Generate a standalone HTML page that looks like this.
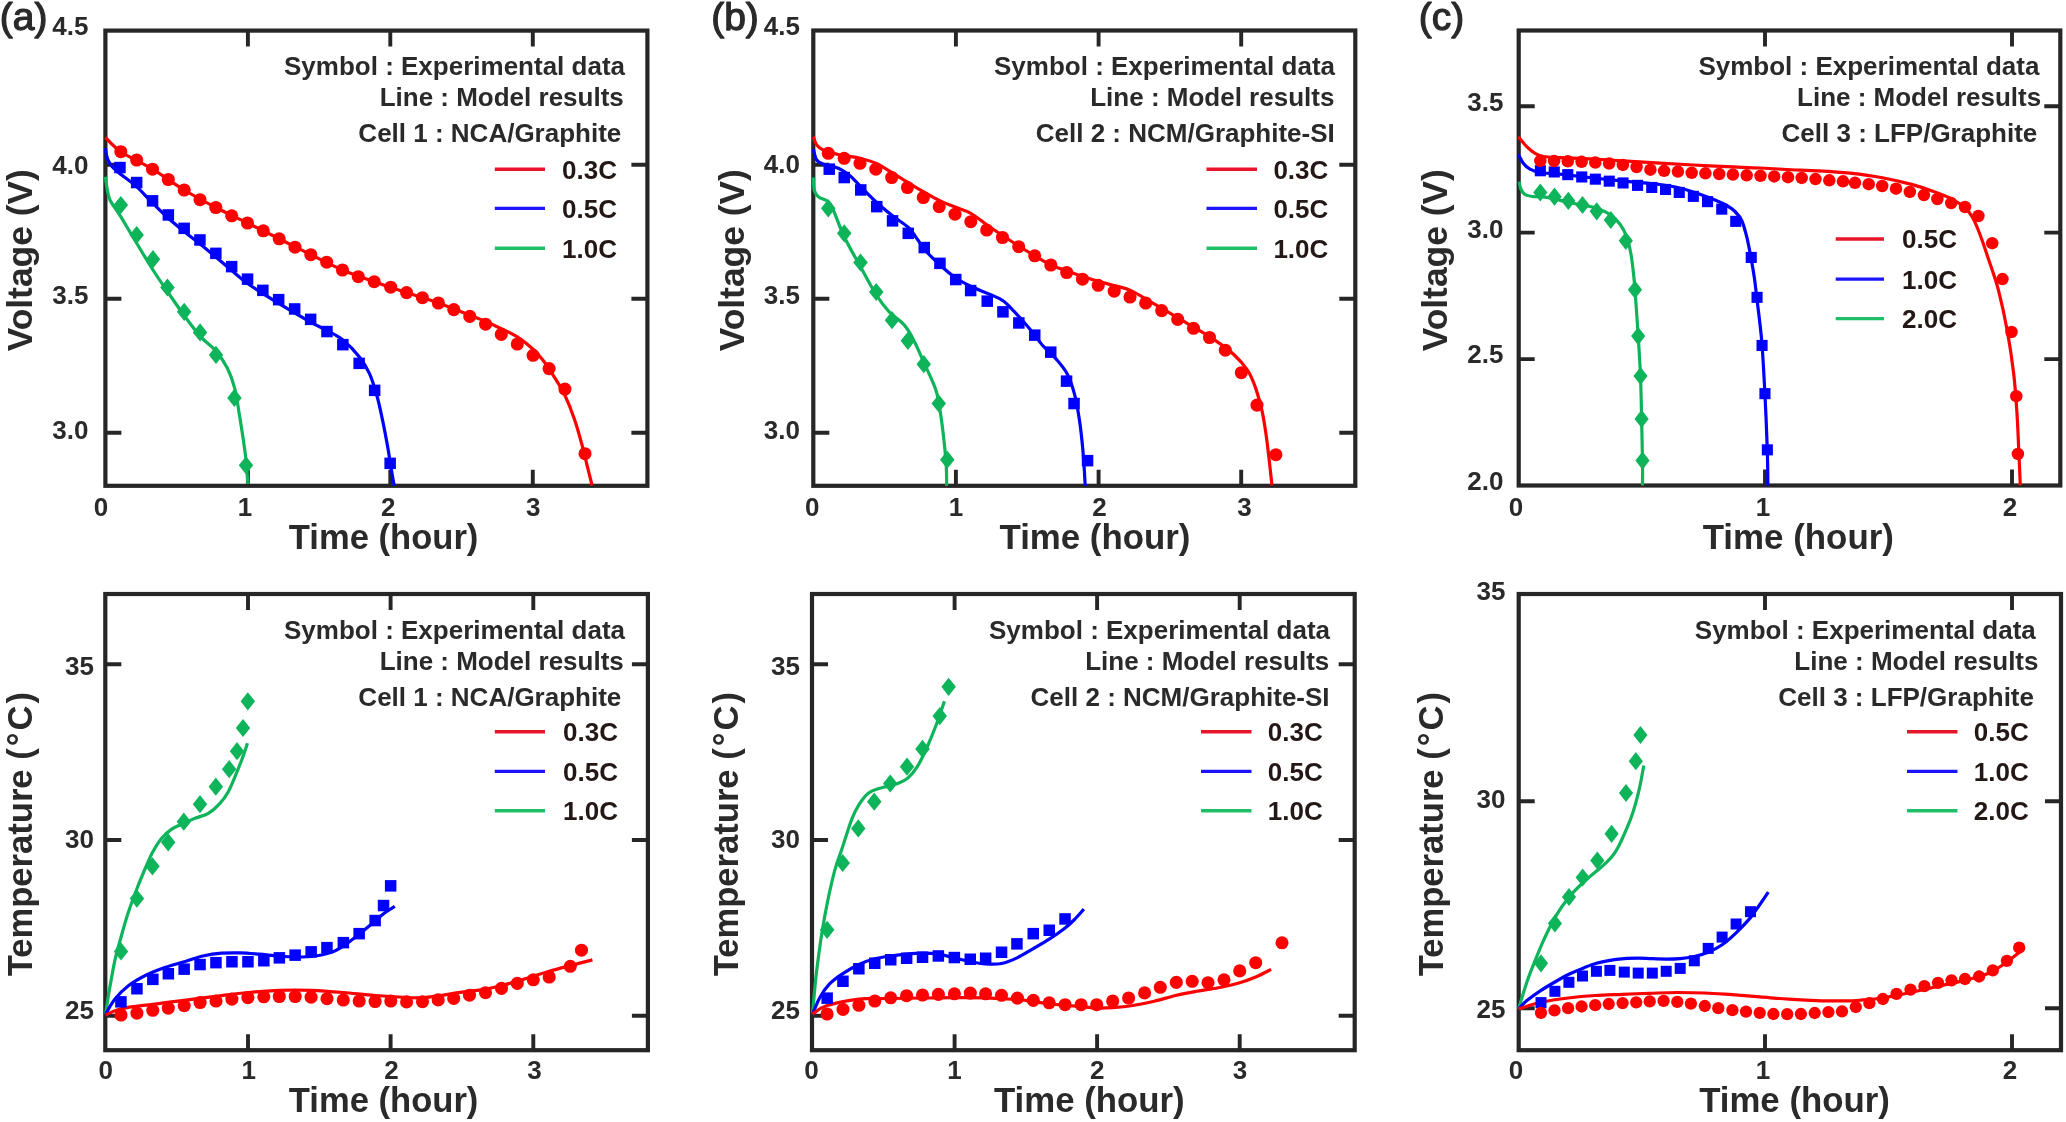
<!DOCTYPE html>
<html><head><meta charset="utf-8"><title>Figure</title>
<style>
html,body{margin:0;padding:0;background:#fff;}
body{width:2066px;height:1122px;overflow:hidden;}
svg{display:block;filter:blur(0.55px);}
svg text{font-family:'Liberation Sans', Arial, Helvetica, sans-serif;font-weight:bold;}
</style></head><body>
<svg width="2066" height="1122" viewBox="0 0 2066 1122">
<rect width="2066" height="1122" fill="#ffffff"/>
<rect x="105.4" y="30.6" width="542" height="455.2" fill="none" stroke="#262626" stroke-width="4.2"/>
<path d="M247.9 485.8V469.8M247.9 30.6V46.6M390.3 485.8V469.8M390.3 30.6V46.6M532.8 485.8V469.8M532.8 30.6V46.6M105.4 164.7H121.4M647.4 164.7H631.4M105.4 298.7H121.4M647.4 298.7H631.4M105.4 432.8H121.4M647.4 432.8H631.4" stroke="#262626" stroke-width="3.9" fill="none"/>
<path d="M105.4 176.7C105.7 178.6 106.2 184.1 107 188C107.8 191.9 107.7 195.2 110 200C112.3 204.8 116.3 209.5 120.8 216.7C125.2 223.9 131.3 234.4 136.7 243.3C142.1 252.2 147.7 261.7 153 270C158.3 278.3 163.5 285.7 168.7 293.3C173.9 300.9 179 308.5 184.2 315.6C189.4 322.7 194.8 330.2 200.1 336.1C205.4 342 211.5 345.8 216 351.1C220.5 356.4 224.2 361.8 227.3 368C230.4 374.2 232.8 380.8 234.8 388.6C236.8 396.4 238 406.4 239.4 414.8C240.8 423.2 242.1 431.6 243.2 439.1C244.3 446.6 245.2 452.2 246 459.7C246.8 467.2 247.6 479.9 247.9 484" fill="none" stroke="#0db45a" stroke-width="3.2" stroke-linecap="butt" stroke-linejoin="round"/>
<path d="M105.4 148.3C105.6 149.4 106 152.9 106.5 155C107 157.1 107.6 159.1 108.5 161C109.4 162.9 110.4 164.7 112 166.5C113.6 168.3 115.7 170 118 172C120.3 174 122.9 175.9 126 178.3C129.1 180.8 132.3 182.6 136.7 186.7C141.1 190.8 147.2 197.7 152.5 203C157.8 208.3 163 213.6 168.3 218.3C173.6 223.1 178.9 227.2 184.2 231.5C189.5 235.8 194.7 239.8 200 244C205.3 248.2 210.5 252.6 215.8 257C221.1 261.4 226.3 266.1 231.7 270.5C237 274.9 240.1 278.2 247.9 283.7C255.7 289.2 268.2 297 278.7 303.4C289.1 309.8 302.6 317.6 310.6 322.1C318.7 326.6 321.6 327.5 327 330.5C332.4 333.5 337.5 335.5 342.9 339.9C348.3 344.3 354.8 351.1 359.2 356.7C363.6 362.3 366.5 367.1 369.5 373.6C372.5 380.2 374.8 388.2 377 396C379.2 403.8 380.9 412.3 382.6 420.4C384.3 428.5 385.9 436.9 387.3 444.7C388.7 452.5 389.9 460.3 391 467.2C392.1 474.1 393.7 482.8 394.2 485.9" fill="none" stroke="#0000ff" stroke-width="3.2" stroke-linecap="butt" stroke-linejoin="round"/>
<path d="M105.4 137.5C108 139.9 113 146.4 120.8 151.7C128.7 157 141.9 162.8 152.5 169.2C163.1 175.6 173.6 183.6 184.2 190C194.8 196.4 205.2 202 215.8 207.5C226.4 213 236.9 217.8 247.5 223C258.1 228.2 268.6 233.5 279.2 238.8C289.8 244.1 300.2 249.5 310.8 254.7C321.4 259.9 331.9 265.5 342.5 270C353.1 274.5 363.5 277.9 374.2 281.7C384.9 285.5 395.9 289.1 406.6 292.6C417.3 296.2 427.9 299.2 438.4 303C448.9 306.8 461.9 312.2 469.8 315.3C477.7 318.4 480.4 319.3 485.6 321.5C490.9 323.7 496 326.1 501.3 328.7C506.6 331.3 512 333.5 517.3 336.9C522.6 340.3 528.6 345.1 533.1 349.2C537.6 353.3 540.5 356.9 544 361.5C547.5 366.1 550.7 371.2 554.2 376.8C557.7 382.4 561.5 388.1 564.9 395.3C568.3 402.5 571.9 411.7 574.7 419.9C577.5 428.1 579.9 437 581.9 444.5C583.9 452 585.3 458.2 587 465C588.7 471.8 591.2 482.1 592.1 485.5" fill="none" stroke="#ff0000" stroke-width="3.2" stroke-linecap="butt" stroke-linejoin="round"/>
<g fill="#0db45a"><path d="M120.8 195.9L128.1 205L120.8 214.1L113.5 205Z"/><path d="M136.7 225.9L143.9 235L136.7 244.1L129.4 235Z"/><path d="M153 250.1L160.2 259.2L153 268.3L145.8 259.2Z"/><path d="M167.4 278.4L174.7 287.5L167.4 296.6L160.2 287.5Z"/><path d="M184.2 302.7L191.4 311.8L184.2 320.9L176.9 311.8Z"/><path d="M200.1 323.3L207.3 332.4L200.1 341.5L192.8 332.4Z"/><path d="M216 345.8L223.2 354.9L216 364L208.8 354.9Z"/><path d="M234.4 388.8L241.7 397.9L234.4 407L227.2 397.9Z"/><path d="M246 456.2L253.2 465.3L246 474.4L238.8 465.3Z"/></g>
<g fill="#0000ff"><rect x="114.2" y="161.8" width="11.5" height="11.5"/><rect x="130.9" y="176.8" width="11.5" height="11.5"/><rect x="146.8" y="195.1" width="11.5" height="11.5"/><rect x="162.6" y="209.2" width="11.5" height="11.5"/><rect x="178.4" y="222.6" width="11.5" height="11.5"/><rect x="194.2" y="234.2" width="11.5" height="11.5"/><rect x="210.1" y="247.6" width="11.5" height="11.5"/><rect x="225.9" y="260.9" width="11.5" height="11.5"/><rect x="241.8" y="273.4" width="11.5" height="11.5"/><rect x="257.1" y="284.6" width="11.5" height="11.5"/><rect x="272.9" y="293.9" width="11.5" height="11.5"/><rect x="288.9" y="303.2" width="11.5" height="11.5"/><rect x="304.9" y="313.6" width="11.5" height="11.5"/><rect x="321.2" y="325.8" width="11.5" height="11.5"/><rect x="337.1" y="338.9" width="11.5" height="11.5"/><rect x="353.4" y="357.6" width="11.5" height="11.5"/><rect x="368.9" y="384.6" width="11.5" height="11.5"/><rect x="384.4" y="457.6" width="11.5" height="11.5"/></g>
<g fill="#ff0000"><circle cx="120.8" cy="151.7" r="6.55"/><circle cx="136.7" cy="160" r="6.55"/><circle cx="152.5" cy="169.2" r="6.55"/><circle cx="168.3" cy="179.5" r="6.55"/><circle cx="184.2" cy="190" r="6.55"/><circle cx="200" cy="199.7" r="6.55"/><circle cx="215.8" cy="207.5" r="6.55"/><circle cx="231.7" cy="215.8" r="6.55"/><circle cx="247.5" cy="223" r="6.55"/><circle cx="263.3" cy="230.8" r="6.55"/><circle cx="279.2" cy="238.8" r="6.55"/><circle cx="295" cy="247.2" r="6.55"/><circle cx="310.8" cy="254.7" r="6.55"/><circle cx="326.7" cy="262.2" r="6.55"/><circle cx="342.5" cy="270" r="6.55"/><circle cx="358.3" cy="276.7" r="6.55"/><circle cx="374.2" cy="281.7" r="6.55"/><circle cx="390.7" cy="287.2" r="6.55"/><circle cx="406.6" cy="292.6" r="6.55"/><circle cx="422.4" cy="297.7" r="6.55"/><circle cx="438.4" cy="303" r="6.55"/><circle cx="453.8" cy="309.6" r="6.55"/><circle cx="469.8" cy="316.4" r="6.55"/><circle cx="485.6" cy="324.2" r="6.55"/><circle cx="501.3" cy="334.4" r="6.55"/><circle cx="517.3" cy="344" r="6.55"/><circle cx="533.1" cy="355.3" r="6.55"/><circle cx="549.1" cy="368.6" r="6.55"/><circle cx="564.9" cy="389.1" r="6.55"/><circle cx="585" cy="453.7" r="6.55"/></g>
<text x="-0.2" y="30.3" font-size="39" text-anchor="start" fill="#2a2a2a" style="font-weight:400" stroke="#2a2a2a" stroke-width="1.25" stroke-linejoin="round">(a)</text>
<text x="88.5" y="35" font-size="26" text-anchor="end" fill="#2a2a2a">4.5</text>
<text x="88.5" y="173.5" font-size="26" text-anchor="end" fill="#2a2a2a">4.0</text>
<text x="88.5" y="304.3" font-size="26" text-anchor="end" fill="#2a2a2a">3.5</text>
<text x="88.5" y="438.5" font-size="26" text-anchor="end" fill="#2a2a2a">3.0</text>
<text x="101.1" y="516.4" font-size="26" text-anchor="middle" fill="#2a2a2a">0</text>
<text x="245" y="516.4" font-size="26" text-anchor="middle" fill="#2a2a2a">1</text>
<text x="388.2" y="516.4" font-size="26" text-anchor="middle" fill="#2a2a2a">2</text>
<text x="533.3" y="516.4" font-size="26" text-anchor="middle" fill="#2a2a2a">3</text>
<text x="383.6" y="548.9" font-size="34.6" text-anchor="middle" fill="#2a2a2a">Time (hour)</text>
<text x="32.4" y="351.3" font-size="35.4" text-anchor="start" fill="#2a2a2a" transform="rotate(-90 32.4 351.3)">Voltage (V)</text>
<text x="625" y="75.2" font-size="26" text-anchor="end" fill="#2a2a2a">Symbol : Experimental data</text>
<text x="623.8" y="105.8" font-size="26" text-anchor="end" fill="#2a2a2a">Line : Model results</text>
<text x="621.3" y="141.6" font-size="26" text-anchor="end" fill="#2a2a2a">Cell 1 : NCA/Graphite</text>
<path d="M494.8 169.3H545" stroke="#e8152a" stroke-width="3.4" fill="none"/>
<text x="562" y="178.7" font-size="26" text-anchor="start" fill="#231815">0.3C</text>
<path d="M494.8 208.4H545" stroke="#1c14ff" stroke-width="3.4" fill="none"/>
<text x="562" y="217.8" font-size="26" text-anchor="start" fill="#231815">0.5C</text>
<path d="M494.8 248.2H545" stroke="#1fbf68" stroke-width="3.4" fill="none"/>
<text x="562" y="257.6" font-size="26" text-anchor="start" fill="#231815">1.0C</text>
<rect x="813.3" y="30.5" width="542" height="455.3" fill="none" stroke="#262626" stroke-width="4.2"/>
<path d="M955.9 485.8V469.8M955.9 30.5V46.5M1098.6 485.8V469.8M1098.6 30.5V46.5M1241.2 485.8V469.8M1241.2 30.5V46.5M813.3 164.7H829.3M1355.3 164.7H1339.3M813.3 298.7H829.3M1355.3 298.7H1339.3M813.3 432.8H829.3M1355.3 432.8H1339.3" stroke="#262626" stroke-width="3.9" fill="none"/>
<path d="M813.3 177.5C813.4 179.6 813.4 186.8 814.2 190C815 193.2 815.9 194.8 818.3 196.7C820.6 198.6 825.8 199.5 828.3 201.7C830.8 203.9 830.6 204.2 833.3 210C835.9 215.8 839.7 227.2 844.2 236.7C848.7 246.1 855.1 257 860.5 266.7C865.9 276.4 871.5 287.5 876.3 295C881.1 302.5 884.6 306.8 889.2 311.8C893.9 316.8 900.1 320.2 904.2 324.9C908.3 329.6 910.3 333.6 913.6 339.9C916.9 346.1 920.1 354 923.8 362.4C927.5 370.8 933.2 381.7 936 390.4C938.8 399.1 939.3 405.8 940.7 414.8C942.1 423.9 943.5 436 944.4 444.7C945.3 453.4 945.9 460.3 946.3 467.2C946.7 474.1 946.6 482.8 946.7 485.9" fill="none" stroke="#0db45a" stroke-width="3.2" stroke-linecap="butt" stroke-linejoin="round"/>
<path d="M813.3 149.2C813.9 151 815 157.5 816.7 160C818.4 162.5 819.7 162.8 823.3 164.2C826.9 165.6 833.8 166.4 838.3 168.3C842.8 170.2 846.2 172.8 850 175.8C853.8 178.9 856.3 182.2 860.8 186.6C865.2 191 871.4 197.6 876.7 202.5C882 207.4 887.2 211.6 892.5 215.8C897.8 220 904 223.4 908.3 227.5C912.6 231.6 915.6 236.9 918.3 240.5C920.9 244.1 920.6 245.1 924.2 249.2C927.8 253.3 934.7 260.2 940 265C945.3 269.8 950.2 274.2 955.8 278C961.4 281.8 966.1 284.1 973.4 287.5C980.7 290.9 993.4 295.3 999.6 298.7C1005.9 302.1 1005.9 303.1 1010.9 308.1C1015.9 313.1 1024.3 322.5 1029.6 328.7C1034.9 334.9 1038.3 340.5 1042.7 345.5C1047.1 350.5 1051.8 353.9 1055.8 358.6C1059.8 363.3 1063.9 367.7 1067 373.6C1070.1 379.5 1072.5 386.7 1074.5 394.2C1076.5 401.7 1078 410.7 1079.2 418.5C1080.5 426.3 1081.2 433.5 1082 441C1082.8 448.5 1083.4 455.9 1083.9 463.4C1084.4 470.9 1085 482.1 1085.2 485.9" fill="none" stroke="#0000ff" stroke-width="3.2" stroke-linecap="butt" stroke-linejoin="round"/>
<path d="M813.3 136.7C813.9 138.1 815 142.8 816.7 145C818.4 147.2 819.7 148.4 823.3 150C826.9 151.6 832.2 153.1 838.3 154.5C844.4 155.9 853.8 156.9 860 158.3C866.2 159.8 870.5 160.8 875.8 163.2C881.1 165.5 886.4 169.2 891.7 172.4C897 175.6 902.2 179 907.5 182.2C912.8 185.4 918 188.6 923.3 191.6C928.6 194.6 933.9 197.8 939.2 200.4C944.5 203 949.7 204.9 955 207.1C960.3 209.2 965.5 210.4 970.8 213.3C976.1 216.2 981.4 221.1 986.7 224.8C992 228.5 997.2 232 1002.5 235.5C1007.8 239 1013.3 242.6 1018.7 246C1024.1 249.4 1029.4 252.6 1034.7 255.8C1040 259 1045.5 262.5 1050.8 265C1056.1 267.5 1061.4 268.9 1066.7 270.8C1072 272.7 1077.2 274.8 1082.5 276.5C1087.8 278.2 1093 279.8 1098.3 281.3C1103.6 282.8 1108.8 284.1 1114.2 285.6C1119.7 287.2 1124.8 287.8 1131 290.6C1137.2 293.4 1144.7 298.4 1151.5 302.3C1158.3 306.2 1165.2 310.2 1172 314.3C1178.8 318.4 1185.7 322.5 1192.5 326.6C1199.3 330.7 1206.2 334.3 1213 338.9C1219.8 343.5 1227.7 349 1233.5 354.3C1239.3 359.6 1244 364.9 1247.8 370.7C1251.5 376.5 1253.6 382.3 1256 389.1C1258.4 395.9 1260.5 403.8 1262.2 411.7C1263.9 419.6 1265.1 428.1 1266.3 436.3C1267.5 444.5 1268.3 452.7 1269.3 460.9C1270.2 469.1 1271.5 481.4 1272 485.5" fill="none" stroke="#ff0000" stroke-width="3.2" stroke-linecap="butt" stroke-linejoin="round"/>
<g fill="#0db45a"><path d="M828.3 199.2L835.5 208.3L828.3 217.4L821 208.3Z"/><path d="M844.2 224.2L851.5 233.3L844.2 242.4L837 233.3Z"/><path d="M860.5 253.4L867.8 262.5L860.5 271.6L853.2 262.5Z"/><path d="M876.2 282.9L883.5 292L876.2 301.1L869 292Z"/><path d="M892 311.1L899.2 320.2L892 329.3L884.8 320.2Z"/><path d="M907.9 331.7L915.1 340.8L907.9 349.9L900.6 340.8Z"/><path d="M923.8 355.1L931 364.2L923.8 373.3L916.5 364.2Z"/><path d="M938.8 394.4L946 403.5L938.8 412.6L931.5 403.5Z"/><path d="M947.2 450.6L954.5 459.7L947.2 468.8L940 459.7Z"/></g>
<g fill="#0000ff"><rect x="823.5" y="163.4" width="11.5" height="11.5"/><rect x="838.5" y="171.8" width="11.5" height="11.5"/><rect x="855" y="184.2" width="11.5" height="11.5"/><rect x="871" y="200.9" width="11.5" height="11.5"/><rect x="886.8" y="215.1" width="11.5" height="11.5"/><rect x="902.5" y="227.6" width="11.5" height="11.5"/><rect x="918.5" y="241.8" width="11.5" height="11.5"/><rect x="934.2" y="257.6" width="11.5" height="11.5"/><rect x="950" y="273.8" width="11.5" height="11.5"/><rect x="964.9" y="284.8" width="11.5" height="11.5"/><rect x="981.5" y="295.4" width="11.5" height="11.5"/><rect x="997.2" y="306.1" width="11.5" height="11.5"/><rect x="1013.1" y="317.2" width="11.5" height="11.5"/><rect x="1029" y="329.4" width="11.5" height="11.5"/><rect x="1045" y="346.4" width="11.5" height="11.5"/><rect x="1060.8" y="375.4" width="11.5" height="11.5"/><rect x="1068.3" y="397.8" width="11.5" height="11.5"/><rect x="1081.8" y="454.9" width="11.5" height="11.5"/></g>
<g fill="#ff0000"><circle cx="828.3" cy="153.3" r="6.55"/><circle cx="844.2" cy="158.3" r="6.55"/><circle cx="860" cy="163.3" r="6.55"/><circle cx="875.8" cy="169.2" r="6.55"/><circle cx="891.7" cy="177.5" r="6.55"/><circle cx="907.5" cy="187.5" r="6.55"/><circle cx="923.3" cy="197.5" r="6.55"/><circle cx="939.2" cy="206.7" r="6.55"/><circle cx="955" cy="214.2" r="6.55"/><circle cx="970.8" cy="221.7" r="6.55"/><circle cx="986.7" cy="230" r="6.55"/><circle cx="1002.5" cy="237.5" r="6.55"/><circle cx="1018.7" cy="246.7" r="6.55"/><circle cx="1034.7" cy="255.8" r="6.55"/><circle cx="1050.8" cy="265" r="6.55"/><circle cx="1066.7" cy="272.5" r="6.55"/><circle cx="1082.5" cy="279.2" r="6.55"/><circle cx="1098.2" cy="285.3" r="6.55"/><circle cx="1114.2" cy="291.1" r="6.55"/><circle cx="1130" cy="297" r="6.55"/><circle cx="1145.7" cy="303" r="6.55"/><circle cx="1161.7" cy="310.6" r="6.55"/><circle cx="1177.7" cy="319.4" r="6.55"/><circle cx="1193.5" cy="328.3" r="6.55"/><circle cx="1209.5" cy="337.5" r="6.55"/><circle cx="1225.3" cy="350.2" r="6.55"/><circle cx="1241.3" cy="372.7" r="6.55"/><circle cx="1257" cy="405.1" r="6.55"/><circle cx="1275.9" cy="454.7" r="6.55"/></g>
<text x="711.2" y="30.3" font-size="39" text-anchor="start" fill="#2a2a2a" style="font-weight:400" stroke="#2a2a2a" stroke-width="1.25" stroke-linejoin="round">(b)</text>
<text x="800" y="35.3" font-size="26" text-anchor="end" fill="#2a2a2a">4.5</text>
<text x="800" y="173" font-size="26" text-anchor="end" fill="#2a2a2a">4.0</text>
<text x="800" y="304.3" font-size="26" text-anchor="end" fill="#2a2a2a">3.5</text>
<text x="800" y="438.5" font-size="26" text-anchor="end" fill="#2a2a2a">3.0</text>
<text x="812.3" y="516.4" font-size="26" text-anchor="middle" fill="#2a2a2a">0</text>
<text x="956" y="516.4" font-size="26" text-anchor="middle" fill="#2a2a2a">1</text>
<text x="1099.4" y="516.4" font-size="26" text-anchor="middle" fill="#2a2a2a">2</text>
<text x="1244.5" y="516.4" font-size="26" text-anchor="middle" fill="#2a2a2a">3</text>
<text x="1095" y="548.9" font-size="34.85" text-anchor="middle" fill="#2a2a2a">Time (hour)</text>
<text x="744.1" y="351.3" font-size="35.4" text-anchor="start" fill="#2a2a2a" transform="rotate(-90 744.1 351.3)">Voltage (V)</text>
<text x="1335" y="75.2" font-size="26" text-anchor="end" fill="#2a2a2a">Symbol : Experimental data</text>
<text x="1334.4" y="105.8" font-size="26" text-anchor="end" fill="#2a2a2a">Line : Model results</text>
<text x="1334.8" y="141.6" font-size="26" text-anchor="end" fill="#2a2a2a">Cell 2 : NCM/Graphite-SI</text>
<path d="M1206.5 169.3H1257" stroke="#e8152a" stroke-width="3.4" fill="none"/>
<text x="1273.4" y="178.7" font-size="26" text-anchor="start" fill="#231815">0.3C</text>
<path d="M1206.5 208.4H1257" stroke="#1c14ff" stroke-width="3.4" fill="none"/>
<text x="1273.4" y="217.8" font-size="26" text-anchor="start" fill="#231815">0.5C</text>
<path d="M1206.5 248.2H1257" stroke="#1fbf68" stroke-width="3.4" fill="none"/>
<text x="1273.4" y="257.6" font-size="26" text-anchor="start" fill="#231815">1.0C</text>
<rect x="1518.7" y="30.5" width="541.6" height="455" fill="none" stroke="#262626" stroke-width="4.2"/>
<path d="M1765 485.5V469.5M1765 30.5V46.5M2012 485.5V469.5M2012 30.5V46.5M1518.7 106.2H1534.7M2060.3 106.2H2044.3M1518.7 232.6H1534.7M2060.3 232.6H2044.3M1518.7 359.1H1534.7M2060.3 359.1H2044.3" stroke="#262626" stroke-width="3.9" fill="none"/>
<path d="M1519.2 181.7C1519.5 182.9 1519.8 186.9 1520.8 189C1521.8 191.1 1522.9 193.2 1525 194.5C1527.1 195.8 1530.2 196.2 1533.3 196.6C1536.3 197 1539.8 196.4 1543.3 196.8C1546.8 197.2 1550.3 197.9 1554.5 198.8C1558.7 199.8 1563.6 201.5 1568.3 202.5C1573 203.5 1577.8 204 1582.5 205C1587.2 206 1592 206.6 1596.7 208.3C1601.4 210 1606.9 212.3 1610.8 215C1614.7 217.7 1617.3 220.6 1620 224.2C1622.7 227.8 1624.9 231.8 1626.7 236.7C1628.5 241.5 1629.7 247.5 1630.8 253.3C1631.9 259.1 1632.6 265.6 1633.3 271.7C1634 277.8 1634.2 279.3 1635 290C1635.8 300.7 1637.3 321.8 1638.2 336.1C1639.1 350.4 1639.9 362.2 1640.5 376C1641.1 389.8 1641.3 404.8 1641.6 418.9C1641.9 433 1642.3 449.5 1642.5 460.6C1642.7 471.7 1642.5 481.4 1642.5 485.5" fill="none" stroke="#0db45a" stroke-width="3.2" stroke-linecap="butt" stroke-linejoin="round"/>
<path d="M1518.3 154.2C1519.1 155.7 1521.3 160.8 1523.3 163.3C1525.2 165.8 1527.2 167.7 1530 169.2C1532.8 170.7 1535.3 171.7 1540.3 172.5C1545.3 173.3 1551.2 173.3 1560 174.2C1568.8 175.1 1582.2 176.8 1593.3 178C1604.4 179.2 1615.6 180.2 1626.7 181.3C1637.8 182.4 1651.7 183.5 1660 184.5C1668.3 185.5 1671.2 186.1 1676.7 187.3C1682.2 188.6 1687.8 190.2 1693.3 192C1698.8 193.8 1704.4 195.8 1710 198C1715.6 200.2 1722.5 203.2 1726.7 205.5C1730.9 207.8 1732.5 209 1735 211.5C1737.5 214 1739.8 216.3 1741.7 220.5C1743.7 224.7 1745.2 230.7 1746.7 236.7C1748.2 242.7 1749.5 250 1750.8 256.7C1752 263.4 1753.2 270 1754.2 276.7C1755.2 283.4 1755.8 289.5 1756.7 296.7C1757.6 303.9 1758.6 311.9 1759.5 320C1760.4 328.1 1761.2 333.2 1762.1 345.5C1763 357.8 1764 376.2 1764.9 393.6C1765.8 411 1766.8 434.6 1767.3 449.9C1767.8 465.2 1767.8 479.6 1767.9 485.5" fill="none" stroke="#0000ff" stroke-width="3.2" stroke-linecap="butt" stroke-linejoin="round"/>
<path d="M1518.3 136.7C1519.7 138.4 1523.9 143.9 1526.7 146.7C1529.5 149.5 1532.2 151.7 1535 153.3C1537.8 154.9 1539.1 155.8 1543.3 156.5C1547.5 157.2 1551.7 157.2 1560 157.6C1568.3 158 1582.2 158.4 1593.3 159C1604.4 159.6 1615.6 160.5 1626.7 161.2C1637.8 161.9 1648.9 162.6 1660 163.2C1671.1 163.8 1682.2 164.4 1693.3 165C1704.4 165.6 1715.6 166.2 1726.7 166.7C1737.8 167.2 1750.1 167.5 1760 168C1769.9 168.5 1776.3 169 1786 169.5C1795.7 170 1807.4 170.2 1818.1 170.8C1828.8 171.4 1839.4 172 1850.1 173.2C1860.8 174.4 1872 175.9 1882.2 177.8C1892.4 179.7 1903.2 182.2 1911.5 184.4C1919.8 186.6 1925.2 188.5 1932 191C1938.8 193.5 1946.8 196.4 1952.4 199.3C1958 202.2 1962.5 205.5 1965.8 208.5C1969.1 211.5 1970.6 214.4 1972.5 217.5C1974.4 220.6 1975.4 223.2 1977 227C1978.6 230.8 1980 234.5 1982 240C1984 245.5 1986 251.6 1988.8 260C1991.5 268.4 1995.4 278.4 1998.5 290.4C2001.6 302.4 2005 318.1 2007.5 332C2010 345.9 2012.1 360.3 2013.7 373.7C2015.3 387.1 2016.1 399.4 2016.9 412.2C2017.8 425 2018.2 438.5 2018.8 450.7C2019.4 462.9 2020 479.7 2020.3 485.5" fill="none" stroke="#ff0000" stroke-width="3.2" stroke-linecap="butt" stroke-linejoin="round"/>
<g fill="#0db45a"><path d="M1540.3 183.4L1547.4 192.5L1540.3 201.6L1533.2 192.5Z"/><path d="M1554.5 187.6L1561.6 196.7L1554.5 205.8L1547.4 196.7Z"/><path d="M1568.3 191.7L1575.4 200.8L1568.3 209.9L1561.2 200.8Z"/><path d="M1582.5 195.9L1589.6 205L1582.5 214.1L1575.4 205Z"/><path d="M1596.7 202.2L1603.8 211.3L1596.7 220.4L1589.6 211.3Z"/><path d="M1610.8 210.9L1617.9 220L1610.8 229.1L1603.7 220Z"/><path d="M1625.8 231.7L1632.9 240.8L1625.8 249.9L1618.7 240.8Z"/><path d="M1635 280.6L1642.1 289.7L1635 298.8L1627.9 289.7Z"/><path d="M1638.2 327L1645.3 336.1L1638.2 345.2L1631.1 336.1Z"/><path d="M1640.5 366.9L1647.6 376L1640.5 385.1L1633.4 376Z"/><path d="M1641.6 409.8L1648.7 418.9L1641.6 428L1634.5 418.9Z"/><path d="M1642.5 451.5L1649.6 460.6L1642.5 469.7L1635.4 460.6Z"/></g>
<g fill="#0000ff"><rect x="1534.8" y="165.2" width="11.1" height="11.1"/><rect x="1548.7" y="166.4" width="11.1" height="11.1"/><rect x="1562.2" y="169.1" width="11.1" height="11.1"/><rect x="1576.2" y="171.4" width="11.1" height="11.1"/><rect x="1589.8" y="173.6" width="11.1" height="11.1"/><rect x="1603.7" y="175.6" width="11.1" height="11.1"/><rect x="1617.5" y="177.4" width="11.1" height="11.1"/><rect x="1632" y="179.8" width="11.1" height="11.1"/><rect x="1646.2" y="181.9" width="11.1" height="11.1"/><rect x="1660" y="183.9" width="11.1" height="11.1"/><rect x="1673.7" y="186.9" width="11.1" height="11.1"/><rect x="1687.8" y="190.8" width="11.1" height="11.1"/><rect x="1702" y="196.1" width="11.1" height="11.1"/><rect x="1716.2" y="203.6" width="11.1" height="11.1"/><rect x="1730.2" y="215.8" width="11.1" height="11.1"/><rect x="1745.7" y="251.9" width="11.1" height="11.1"/><rect x="1751.5" y="291.8" width="11.1" height="11.1"/><rect x="1756.5" y="339.9" width="11.1" height="11.1"/><rect x="1759.4" y="388.1" width="11.1" height="11.1"/><rect x="1761.8" y="444.3" width="11.1" height="11.1"/></g>
<g fill="#ff0000"><circle cx="1540.3" cy="160.8" r="6.25"/><circle cx="1554.1" cy="161" r="6.25"/><circle cx="1567.8" cy="161.3" r="6.25"/><circle cx="1581.6" cy="161.8" r="6.25"/><circle cx="1595.3" cy="162.5" r="6.25"/><circle cx="1609.1" cy="163.5" r="6.25"/><circle cx="1622.9" cy="164.9" r="6.25"/><circle cx="1636.6" cy="167" r="6.25"/><circle cx="1650.4" cy="169.7" r="6.25"/><circle cx="1664.1" cy="170.8" r="6.25"/><circle cx="1677.9" cy="171.6" r="6.25"/><circle cx="1691.7" cy="172.8" r="6.25"/><circle cx="1705.4" cy="173.3" r="6.25"/><circle cx="1719.2" cy="174" r="6.25"/><circle cx="1732.9" cy="174.6" r="6.25"/><circle cx="1746.7" cy="175.3" r="6.25"/><circle cx="1760.5" cy="175.8" r="6.25"/><circle cx="1774.2" cy="176.4" r="6.25"/><circle cx="1788" cy="177.2" r="6.25"/><circle cx="1801.7" cy="177.9" r="6.25"/><circle cx="1815.5" cy="179.1" r="6.25"/><circle cx="1829.3" cy="180.3" r="6.25"/><circle cx="1843" cy="181.3" r="6.25"/><circle cx="1855" cy="182.8" r="6.25"/><circle cx="1868.7" cy="184.2" r="6.25"/><circle cx="1882.2" cy="186" r="6.25"/><circle cx="1896" cy="188.7" r="6.25"/><circle cx="1909.8" cy="191.9" r="6.25"/><circle cx="1923.9" cy="195.1" r="6.25"/><circle cx="1937.4" cy="199" r="6.25"/><circle cx="1951.2" cy="203.1" r="6.25"/><circle cx="1965" cy="207" r="6.25"/><circle cx="1978.4" cy="216" r="6.25"/><circle cx="1992.2" cy="243.2" r="6.25"/><circle cx="2002.5" cy="279.1" r="6.25"/><circle cx="2011.5" cy="332" r="6.25"/><circle cx="2016.3" cy="396.2" r="6.25"/><circle cx="2017.9" cy="453.9" r="6.25"/></g>
<text x="1418.8" y="30.3" font-size="39" text-anchor="start" fill="#2a2a2a" style="font-weight:400" stroke="#2a2a2a" stroke-width="1.25" stroke-linejoin="round">(c)</text>
<text x="1503.5" y="111.2" font-size="26" text-anchor="end" fill="#2a2a2a">3.5</text>
<text x="1503.5" y="238" font-size="26" text-anchor="end" fill="#2a2a2a">3.0</text>
<text x="1503.5" y="362.7" font-size="26" text-anchor="end" fill="#2a2a2a">2.5</text>
<text x="1503.5" y="490.3" font-size="26" text-anchor="end" fill="#2a2a2a">2.0</text>
<text x="1516" y="516.4" font-size="26" text-anchor="middle" fill="#2a2a2a">0</text>
<text x="1763" y="516.4" font-size="26" text-anchor="middle" fill="#2a2a2a">1</text>
<text x="2010" y="516.4" font-size="26" text-anchor="middle" fill="#2a2a2a">2</text>
<text x="1798.3" y="548.9" font-size="34.9" text-anchor="middle" fill="#2a2a2a">Time (hour)</text>
<text x="1447.2" y="351.3" font-size="35.4" text-anchor="start" fill="#2a2a2a" transform="rotate(-90 1447.2 351.3)">Voltage (V)</text>
<text x="2039.4" y="75.2" font-size="26" text-anchor="end" fill="#2a2a2a">Symbol : Experimental data</text>
<text x="2041.2" y="105.8" font-size="26" text-anchor="end" fill="#2a2a2a">Line : Model results</text>
<text x="2037.3" y="141.6" font-size="26" text-anchor="end" fill="#2a2a2a">Cell 3 : LFP/Graphite</text>
<path d="M1835.7 239H1884" stroke="#e8152a" stroke-width="3.4" fill="none"/>
<text x="1902" y="248.4" font-size="26" text-anchor="start" fill="#231815">0.5C</text>
<path d="M1835.7 279.1H1884" stroke="#1c14ff" stroke-width="3.4" fill="none"/>
<text x="1902" y="288.5" font-size="26" text-anchor="start" fill="#231815">1.0C</text>
<path d="M1835.7 318.6H1884" stroke="#1fbf68" stroke-width="3.4" fill="none"/>
<text x="1902" y="328" font-size="26" text-anchor="start" fill="#231815">2.0C</text>
<rect x="105.3" y="594" width="542.6" height="456.2" fill="none" stroke="#262626" stroke-width="4.2"/>
<path d="M248 1050.2V1034.2M248 594V610M390.6 1050.2V1034.2M390.6 594V610M533.3 1050.2V1034.2M533.3 594V610M105.3 664.3H121.3M647.9 664.3H631.9M105.3 840H121.3M647.9 840H631.9M105.3 1015.8H121.3M647.9 1015.8H631.9" stroke="#262626" stroke-width="3.9" fill="none"/>
<path d="M105.6 1014C106.2 1010 107.8 998.7 109.4 989.7C111 980.7 113.1 968.5 115 959.8C116.9 951.1 118.8 945.1 121 937.3C123.2 929.5 125.4 921.1 128.1 913C130.8 904.9 133.9 896.5 136.9 888.7C139.9 880.9 143.6 872.2 146.3 866C149 859.8 150.4 856.1 153 851.5C155.6 846.9 158.6 842 161.7 838.3C164.8 834.6 168 831.7 171.7 829.2C175.4 826.7 179.9 825.1 183.8 823.3C187.7 821.5 190.9 820 195 818.3C199.1 816.6 204.1 815.8 208.3 813.3C212.5 810.8 216.7 806.9 220 803.3C223.3 799.7 225.8 796.1 228.3 791.7C230.8 787.3 232.8 782 235 776.7C237.2 771.4 239.6 765.6 241.7 760C243.8 754.4 246.5 746.1 247.5 743.3" fill="none" stroke="#0db45a" stroke-width="3.2" stroke-linecap="butt" stroke-linejoin="round"/>
<path d="M105.6 1014C107.2 1011.5 111.2 1003.8 115 999.1C118.8 994.4 122.8 990 128.1 986C133.4 982 140.6 977.9 146.8 974.8C153 971.7 159.3 969.5 165.5 967.3C171.7 965.1 178 963.6 184.2 961.7C190.4 959.8 196.7 957.4 202.9 956C209.2 954.6 215.4 953.7 221.7 953.2C227.9 952.7 234.2 952.7 240.4 952.9C246.6 953.1 252.9 953.7 259.1 954.2C265.3 954.7 271.6 955.5 277.8 956C284 956.5 290.3 957 296.5 957C302.7 957 308.9 956.9 315.2 956C321.4 955.1 327.8 954.2 334 951.4C340.2 948.6 346.5 943.7 352.7 939.2C358.9 934.7 366.1 928.6 371.4 924.2C376.7 919.8 380.6 916 384.5 913C388.4 910 393.1 907.5 394.8 906.4" fill="none" stroke="#0000ff" stroke-width="3.2" stroke-linecap="butt" stroke-linejoin="round"/>
<path d="M105.6 1015C108.2 1014 113.1 1010.6 121 1008.8C128.9 1007 142.3 1005.7 152.8 1004.3C163.3 1002.9 173.7 1001.6 184.2 1000.3C194.7 999 205.4 997.6 216 996.3C226.6 995 237.3 993.5 247.9 992.5C258.4 991.5 268.8 990.7 279.3 990.3C289.8 989.9 300.4 989.9 311.1 990.3C321.8 990.7 332.6 991.6 343.3 992.5C354 993.4 364.5 994.7 375.1 995.5C385.7 996.3 398.9 997.1 406.9 997.5C414.8 997.9 417.6 998 422.8 997.7C428 997.4 432.9 996.5 438 995.8C443.1 995.1 448.4 994.2 453.7 993.4C458.9 992.6 464.2 991.9 469.5 991.2C474.8 990.5 480.2 990.1 485.5 989.1C490.8 988.1 496.2 986.8 501.5 985.5C506.8 984.2 512 982.8 517.3 981.3C522.6 979.8 528 978 533.3 976.3C538.6 974.6 543 973.1 549.2 971.3C555.4 969.5 563.1 967.5 570.3 965.6C577.5 963.7 588.7 960.9 592.4 959.9" fill="none" stroke="#ff0000" stroke-width="3.2" stroke-linecap="butt" stroke-linejoin="round"/>
<g fill="#0db45a"><path d="M247.8 692.2L255.1 701.3L247.8 710.4L240.6 701.3Z"/><path d="M243 718.9L250.2 728L243 737.1L235.8 728Z"/><path d="M237 742.1L244.2 751.2L237 760.3L229.8 751.2Z"/><path d="M229.2 760.1L236.4 769.2L229.2 778.3L221.9 769.2Z"/><path d="M215.8 777.6L223.1 786.7L215.8 795.8L208.6 786.7Z"/><path d="M200 795.1L207.2 804.2L200 813.3L192.8 804.2Z"/><path d="M183.8 812.6L191.1 821.7L183.8 830.8L176.6 821.7Z"/><path d="M168.2 833.2L175.4 842.3L168.2 851.4L160.9 842.3Z"/><path d="M152.4 857.2L159.7 866.3L152.4 875.4L145.2 866.3Z"/><path d="M136.9 889.5L144.2 898.6L136.9 907.7L129.7 898.6Z"/><path d="M121 942.3L128.2 951.4L121 960.5L113.8 951.4Z"/></g>
<g fill="#0000ff"><rect x="115.2" y="996.1" width="11.5" height="11.5"/><rect x="131.2" y="983" width="11.5" height="11.5"/><rect x="147.1" y="973.6" width="11.5" height="11.5"/><rect x="162.6" y="968" width="11.5" height="11.5"/><rect x="178.4" y="963.4" width="11.5" height="11.5"/><rect x="194.3" y="958.8" width="11.5" height="11.5"/><rect x="210.2" y="956.9" width="11.5" height="11.5"/><rect x="226.2" y="956" width="11.5" height="11.5"/><rect x="242.2" y="956" width="11.5" height="11.5"/><rect x="258.1" y="955" width="11.5" height="11.5"/><rect x="273.6" y="952.1" width="11.5" height="11.5"/><rect x="289.4" y="949.4" width="11.5" height="11.5"/><rect x="305.4" y="946.1" width="11.5" height="11.5"/><rect x="321.2" y="941.9" width="11.5" height="11.5"/><rect x="337.6" y="936.9" width="11.5" height="11.5"/><rect x="353.4" y="927.9" width="11.5" height="11.5"/><rect x="369.4" y="914.8" width="11.5" height="11.5"/><rect x="377.8" y="899.8" width="11.5" height="11.5"/><rect x="384.9" y="880.1" width="11.5" height="11.5"/></g>
<g fill="#ff0000"><circle cx="121" cy="1015" r="6.55"/><circle cx="136.9" cy="1013.1" r="6.55"/><circle cx="152.8" cy="1010.3" r="6.55"/><circle cx="168.3" cy="1008.1" r="6.55"/><circle cx="184.2" cy="1005.6" r="6.55"/><circle cx="200.1" cy="1002.5" r="6.55"/><circle cx="216" cy="1001" r="6.55"/><circle cx="231.9" cy="999.1" r="6.55"/><circle cx="247.9" cy="997.6" r="6.55"/><circle cx="263.8" cy="996.8" r="6.55"/><circle cx="279.3" cy="996.5" r="6.55"/><circle cx="295.2" cy="996.5" r="6.55"/><circle cx="311.1" cy="997.2" r="6.55"/><circle cx="327" cy="998.7" r="6.55"/><circle cx="343.3" cy="1000" r="6.55"/><circle cx="359.2" cy="1001" r="6.55"/><circle cx="375.1" cy="1001.5" r="6.55"/><circle cx="390.8" cy="1001" r="6.55"/><circle cx="406.6" cy="1001.9" r="6.55"/><circle cx="422.5" cy="1001.7" r="6.55"/><circle cx="438.2" cy="999.9" r="6.55"/><circle cx="453.7" cy="998.4" r="6.55"/><circle cx="469.5" cy="995.2" r="6.55"/><circle cx="485.5" cy="992.7" r="6.55"/><circle cx="501.5" cy="988.4" r="6.55"/><circle cx="517.3" cy="983.4" r="6.55"/><circle cx="533.3" cy="979.8" r="6.55"/><circle cx="549.2" cy="977" r="6.55"/><circle cx="570.3" cy="966.3" r="6.55"/><circle cx="581.5" cy="950.2" r="6.55"/></g>
<text x="94" y="675.3" font-size="26" text-anchor="end" fill="#2a2a2a">35</text>
<text x="94" y="847.5" font-size="26" text-anchor="end" fill="#2a2a2a">30</text>
<text x="94" y="1019.2" font-size="26" text-anchor="end" fill="#2a2a2a">25</text>
<text x="105.8" y="1079.4" font-size="26" text-anchor="middle" fill="#2a2a2a">0</text>
<text x="248.7" y="1079.4" font-size="26" text-anchor="middle" fill="#2a2a2a">1</text>
<text x="391.6" y="1079.4" font-size="26" text-anchor="middle" fill="#2a2a2a">2</text>
<text x="534.5" y="1079.4" font-size="26" text-anchor="middle" fill="#2a2a2a">3</text>
<text x="383.6" y="1112.2" font-size="34.6" text-anchor="middle" fill="#2a2a2a">Time (hour)</text>
<text x="32" y="976.3" font-size="34.6" text-anchor="start" fill="#2a2a2a" transform="rotate(-90 32 976.3)">Temperature <tspan letter-spacing="2">(°C)</tspan></text>
<text x="625" y="639" font-size="26" text-anchor="end" fill="#2a2a2a">Symbol : Experimental data</text>
<text x="623.8" y="669.7" font-size="26" text-anchor="end" fill="#2a2a2a">Line : Model results</text>
<text x="621.3" y="705.5" font-size="26" text-anchor="end" fill="#2a2a2a">Cell 1 : NCA/Graphite</text>
<path d="M494.8 731.7H545" stroke="#e8152a" stroke-width="3.4" fill="none"/>
<text x="563" y="740.9" font-size="26" text-anchor="start" fill="#231815">0.3C</text>
<path d="M494.8 771.4H545" stroke="#1c14ff" stroke-width="3.4" fill="none"/>
<text x="563" y="780.6" font-size="26" text-anchor="start" fill="#231815">0.5C</text>
<path d="M494.8 810.7H545" stroke="#1fbf68" stroke-width="3.4" fill="none"/>
<text x="563" y="819.9" font-size="26" text-anchor="start" fill="#231815">1.0C</text>
<rect x="812" y="594" width="542.7" height="456.2" fill="none" stroke="#262626" stroke-width="4.2"/>
<path d="M954.6 1050.2V1034.2M954.6 594V610M1097.1 1050.2V1034.2M1097.1 594V610M1239.7 1050.2V1034.2M1239.7 594V610M812 664.3H828M1354.7 664.3H1338.7M812 840H828M1354.7 840H1338.7M812 1015.8H828M1354.7 1015.8H1338.7" stroke="#262626" stroke-width="3.9" fill="none"/>
<path d="M812.5 1014C813.1 1007.5 814.7 988.2 816.2 974.8C817.8 961.4 819.9 945.8 821.8 933.6C823.7 921.4 825.3 912.4 827.5 901.8C829.7 891.2 832.4 878.9 834.9 869.9C837.4 860.9 839.6 856 842.4 847.5C845.2 839 849 826.3 851.8 819.1C854.6 811.9 856.5 808.5 859.3 804.1C862.1 799.7 865.2 795.5 868.6 792.9C872 790.2 875.5 789.6 879.9 788.2C884.3 786.8 890.1 786.2 894.8 784.5C899.5 782.8 904.1 780.9 907.9 777.9C911.6 774.9 914.2 771.7 917.3 766.7C920.4 761.7 923.6 754.9 926.7 748C929.8 741.1 933 733.3 936 725.5C939 717.7 943 705.2 944.4 701.2" fill="none" stroke="#0db45a" stroke-width="3.2" stroke-linecap="butt" stroke-linejoin="round"/>
<path d="M812.5 1014C813.8 1011.2 817.2 1002.2 820 997.2C822.8 992.2 825.6 988 829.3 984.1C833 980.2 837.5 977.1 842.4 973.8C847.3 970.5 853.5 967 858.9 964.5C864.3 962 869.5 960.2 874.8 958.8C880.1 957.4 885.4 956.8 890.7 956C896 955.2 901.3 954.7 906.6 954.2C911.9 953.7 917.2 953.2 922.5 953.2C927.8 953.2 933.1 953.4 938.4 954.2C943.7 955 949.1 956.6 954.4 957.9C959.7 959.1 965.1 960.7 970.3 961.7C975.5 962.7 980.4 963.6 985.6 963.9C990.8 964.2 996.3 964.5 1001.5 963.5C1006.7 962.5 1011.7 960.4 1017 957.9C1022.3 955.4 1027.9 951.7 1033.3 948.6C1038.7 945.5 1043.9 942.6 1049.2 939.2C1054.5 935.8 1060.9 931.3 1065.1 928C1069.3 924.7 1071.4 922.6 1074.5 919.5C1077.6 916.4 1082.3 910.9 1083.9 909.2" fill="none" stroke="#0000ff" stroke-width="3.2" stroke-linecap="butt" stroke-linejoin="round"/>
<path d="M812.5 1014C814.9 1012.6 819.4 1008.1 827.1 1005.6C834.8 1003.1 848.3 1000.3 858.9 999.1C869.5 997.9 880.1 998.7 890.7 998.5C901.3 998.3 911.9 998.1 922.5 998C933.1 997.9 943.9 997.6 954.4 997.6C964.9 997.6 975.1 997.5 985.6 997.8C996.1 998.1 1009.5 998.9 1017.4 999.5C1025.3 1000.1 1028 1000.8 1033.3 1001.5C1038.6 1002.2 1041.2 1002.9 1049.2 1003.8C1057.2 1004.6 1073.2 1005.9 1081.1 1006.6C1089 1007.3 1091.2 1007.8 1096.5 1008C1101.8 1008.2 1106.8 1008 1112.8 1007.6C1118.8 1007.2 1125.9 1006.6 1132.8 1005.5C1139.7 1004.4 1147.1 1002.9 1154.2 1001.2C1161.3 999.5 1168.4 997.2 1175.5 995.5C1182.6 993.8 1189.8 992.5 1196.9 991.2C1204 989.9 1211.2 989.1 1218.3 987.7C1225.4 986.3 1233.5 984.5 1239.7 982.7C1245.9 980.9 1250.5 979.2 1255.7 977C1260.9 974.8 1268.5 970.7 1271.1 969.4" fill="none" stroke="#ff0000" stroke-width="3.2" stroke-linecap="butt" stroke-linejoin="round"/>
<g fill="#0db45a"><path d="M948.6 677.7L955.9 686.8L948.6 695.9L941.4 686.8Z"/><path d="M939.8 707L947 716.1L939.8 725.2L932.5 716.1Z"/><path d="M922.5 739.8L929.8 748.9L922.5 758L915.2 748.9Z"/><path d="M907 757.6L914.2 766.7L907 775.8L899.8 766.7Z"/><path d="M890.2 774.4L897.5 783.5L890.2 792.6L883 783.5Z"/><path d="M874.2 792.6L881.5 801.7L874.2 810.8L867 801.7Z"/><path d="M858.3 819.3L865.5 828.4L858.3 837.5L851 828.4Z"/><path d="M842.7 853.9L850 863L842.7 872.1L835.5 863Z"/><path d="M827.1 920.7L834.4 929.8L827.1 938.9L819.9 929.8Z"/></g>
<g fill="#0000ff"><rect x="821.4" y="992.4" width="11.5" height="11.5"/><rect x="837.2" y="975.5" width="11.5" height="11.5"/><rect x="853.1" y="963" width="11.5" height="11.5"/><rect x="869" y="957.5" width="11.5" height="11.5"/><rect x="885" y="954" width="11.5" height="11.5"/><rect x="900.9" y="952.5" width="11.5" height="11.5"/><rect x="916.8" y="951.5" width="11.5" height="11.5"/><rect x="932.6" y="950.2" width="11.5" height="11.5"/><rect x="948.6" y="951.8" width="11.5" height="11.5"/><rect x="964.5" y="953.5" width="11.5" height="11.5"/><rect x="979.9" y="952.5" width="11.5" height="11.5"/><rect x="995.8" y="946.5" width="11.5" height="11.5"/><rect x="1011.2" y="938.1" width="11.5" height="11.5"/><rect x="1027.5" y="927.9" width="11.5" height="11.5"/><rect x="1043.5" y="924.5" width="11.5" height="11.5"/><rect x="1059.3" y="913.2" width="11.5" height="11.5"/></g>
<g fill="#ff0000"><circle cx="827.1" cy="1014" r="6.55"/><circle cx="843" cy="1009.4" r="6.55"/><circle cx="858.9" cy="1005.3" r="6.55"/><circle cx="874.8" cy="1001" r="6.55"/><circle cx="890.7" cy="997.8" r="6.55"/><circle cx="906.6" cy="995.7" r="6.55"/><circle cx="922.5" cy="995" r="6.55"/><circle cx="938.4" cy="994.4" r="6.55"/><circle cx="954.4" cy="993.8" r="6.55"/><circle cx="970.3" cy="993.1" r="6.55"/><circle cx="985.6" cy="993.8" r="6.55"/><circle cx="1001.5" cy="995.3" r="6.55"/><circle cx="1017.4" cy="998.1" r="6.55"/><circle cx="1033.3" cy="1000.4" r="6.55"/><circle cx="1049.2" cy="1002.8" r="6.55"/><circle cx="1065.1" cy="1004.7" r="6.55"/><circle cx="1081.1" cy="1004.7" r="6.55"/><circle cx="1096.7" cy="1004.7" r="6.55"/><circle cx="1112.7" cy="1001" r="6.55"/><circle cx="1128.6" cy="998" r="6.55"/><circle cx="1144.6" cy="992.9" r="6.55"/><circle cx="1160.3" cy="987.3" r="6.55"/><circle cx="1176.3" cy="982.4" r="6.55"/><circle cx="1192.2" cy="981.3" r="6.55"/><circle cx="1208" cy="982.7" r="6.55"/><circle cx="1224" cy="979.8" r="6.55"/><circle cx="1239.7" cy="970.9" r="6.55"/><circle cx="1255.7" cy="962.7" r="6.55"/><circle cx="1282" cy="942.8" r="6.55"/></g>
<text x="800" y="675.3" font-size="26" text-anchor="end" fill="#2a2a2a">35</text>
<text x="800" y="847.5" font-size="26" text-anchor="end" fill="#2a2a2a">30</text>
<text x="800" y="1019" font-size="26" text-anchor="end" fill="#2a2a2a">25</text>
<text x="811.6" y="1079.4" font-size="26" text-anchor="middle" fill="#2a2a2a">0</text>
<text x="954.4" y="1079.4" font-size="26" text-anchor="middle" fill="#2a2a2a">1</text>
<text x="1097.2" y="1079.4" font-size="26" text-anchor="middle" fill="#2a2a2a">2</text>
<text x="1240" y="1079.4" font-size="26" text-anchor="middle" fill="#2a2a2a">3</text>
<text x="1089.3" y="1112.2" font-size="34.8" text-anchor="middle" fill="#2a2a2a">Time (hour)</text>
<text x="738.2" y="976.3" font-size="34.6" text-anchor="start" fill="#2a2a2a" transform="rotate(-90 738.2 976.3)">Temperature <tspan letter-spacing="2">(°C)</tspan></text>
<text x="1330" y="639" font-size="26" text-anchor="end" fill="#2a2a2a">Symbol : Experimental data</text>
<text x="1329.3" y="669.7" font-size="26" text-anchor="end" fill="#2a2a2a">Line : Model results</text>
<text x="1329.6" y="705.5" font-size="26" text-anchor="end" fill="#2a2a2a">Cell 2 : NCM/Graphite-SI</text>
<path d="M1201 731.7H1251.5" stroke="#e8152a" stroke-width="3.4" fill="none"/>
<text x="1267.8" y="740.9" font-size="26" text-anchor="start" fill="#231815">0.3C</text>
<path d="M1201 771.4H1251.5" stroke="#1c14ff" stroke-width="3.4" fill="none"/>
<text x="1267.8" y="780.6" font-size="26" text-anchor="start" fill="#231815">0.5C</text>
<path d="M1201 810.7H1251.5" stroke="#1fbf68" stroke-width="3.4" fill="none"/>
<text x="1267.8" y="819.9" font-size="26" text-anchor="start" fill="#231815">1.0C</text>
<rect x="1518.7" y="594" width="542.3" height="456.2" fill="none" stroke="#262626" stroke-width="4.2"/>
<path d="M1765 1050.2V1034.2M1765 594V610M2012 1050.2V1034.2M2012 594V610M1518.7 801.2H1534.7M2061 801.2H2045M1518.7 1008.3H1534.7M2061 1008.3H2045" stroke="#262626" stroke-width="3.9" fill="none"/>
<path d="M1518.5 1009C1519.9 1004.5 1524.1 990.1 1526.9 981.9C1529.7 973.7 1532.6 966.9 1535.4 959.9C1538.2 952.9 1540.7 946.6 1543.9 939.6C1547.2 932.6 1550.7 924.7 1554.9 917.6C1559.1 910.5 1564.2 903.1 1568.9 897.3C1573.6 891.5 1578.1 887.4 1582.8 882.9C1587.5 878.4 1593.3 873.9 1597.2 870.5C1601.1 867.1 1603.3 865.4 1606 862.8C1608.7 860.2 1611.1 857.7 1613.2 855C1615.3 852.3 1616.9 849.5 1618.5 846.5C1620.1 843.5 1620.8 842.1 1623 837C1625.2 831.9 1629 823.9 1631.7 816C1634.4 808.1 1637.1 798.2 1639.1 789.8C1641.1 781.4 1643 769.5 1643.8 765.5" fill="none" stroke="#0db45a" stroke-width="3.2" stroke-linecap="butt" stroke-linejoin="round"/>
<path d="M1518.5 1009C1519.9 1007.6 1523.2 1003.7 1526.9 1000.6C1530.7 997.5 1536.3 993.5 1541 990.4C1545.7 987.3 1550.2 984.7 1554.9 982C1559.6 979.3 1564.3 976.6 1568.9 974.3C1573.5 972 1577.9 970.2 1582.5 968.4C1587.1 966.6 1591.8 964.6 1596.4 963.3C1601 961.9 1605.2 961.1 1609.9 960.3C1614.6 959.5 1619.6 959 1624.3 958.6C1629 958.2 1633.5 958.2 1638.2 958.2C1642.9 958.2 1647.6 958.6 1652.3 958.7C1657 958.9 1661.5 959.1 1666.2 959.1C1670.9 959.1 1675.5 959 1680.2 958.6C1684.9 958.2 1689.6 957.5 1694.3 956.5C1699 955.5 1703.6 954.3 1708.2 952.3C1712.8 950.3 1717.4 948 1722.1 944.7C1726.8 941.5 1731.4 937.3 1736.1 932.8C1740.8 928.3 1746.7 922.1 1750.5 917.6C1754.3 913.1 1756 909.9 1759 905.7C1762 901.5 1766.8 894.5 1768.3 892.2" fill="none" stroke="#0000ff" stroke-width="3.2" stroke-linecap="butt" stroke-linejoin="round"/>
<path d="M1518.5 1009C1522.2 1007.9 1532.7 1004.1 1541 1002.3C1549.3 1000.5 1559.1 999.1 1568.1 998C1577.1 996.9 1586.1 996.1 1595.2 995.5C1604.3 994.9 1613.5 994.7 1622.6 994.3C1631.7 993.9 1640.6 993.6 1649.7 993.3C1658.8 993 1668.1 992.5 1677.3 992.5C1686.5 992.5 1695.6 992.6 1704.8 993C1714 993.4 1723 994.1 1732.2 994.7C1741.4 995.4 1750.4 996.1 1759.8 996.9C1769.2 997.6 1778.3 998.6 1788.7 999.2C1799.1 999.9 1811.5 1000.5 1822 1000.8C1832.5 1001.1 1845.2 1000.9 1852 1000.8C1858.8 1000.6 1858.9 1000.2 1862.6 999.9C1866.3 999.6 1869.6 999.6 1874.4 999C1879.2 998.4 1885.8 997.3 1891.4 996.3C1897.1 995.3 1902.7 994.2 1908.3 993C1913.9 991.8 1919.6 990.5 1925.3 989.2C1931 987.9 1936.6 986.7 1942.2 985.4C1947.8 984.1 1954.1 982.8 1959.1 981.6C1964.1 980.5 1967.8 979.6 1972 978.5C1976.2 977.4 1980.5 976.2 1984 975C1987.5 973.8 1989.4 973.2 1993.2 971C1997 968.8 2002.5 965.2 2007 962C2011.5 958.8 2017.8 953.4 2020 951.7" fill="none" stroke="#ff0000" stroke-width="3.2" stroke-linecap="butt" stroke-linejoin="round"/>
<g fill="#0db45a"><path d="M1640.4 725.9L1647.5 735L1640.4 744.1L1633.3 735Z"/><path d="M1635.8 752.1L1642.9 761.2L1635.8 770.3L1628.7 761.2Z"/><path d="M1626 783.9L1633.1 793L1626 802.1L1618.9 793Z"/><path d="M1611.6 824.7L1618.7 833.8L1611.6 842.9L1604.5 833.8Z"/><path d="M1597.3 851.4L1604.4 860.5L1597.3 869.6L1590.2 860.5Z"/><path d="M1582.7 868.4L1589.8 877.5L1582.7 886.6L1575.6 877.5Z"/><path d="M1569 887.9L1576.1 897L1569 906.1L1561.9 897Z"/><path d="M1554.9 914.4L1562 923.5L1554.9 932.6L1547.8 923.5Z"/><path d="M1541 954.2L1548.1 963.3L1541 972.4L1533.9 963.3Z"/></g>
<g fill="#0000ff"><rect x="1535.5" y="997.1" width="11.0" height="11.0"/><rect x="1549.4" y="985.8" width="11.0" height="11.0"/><rect x="1563.4" y="976.8" width="11.0" height="11.0"/><rect x="1577" y="970.5" width="11.0" height="11.0"/><rect x="1590.9" y="965.8" width="11.0" height="11.0"/><rect x="1604.4" y="964.9" width="11.0" height="11.0"/><rect x="1618.8" y="966.6" width="11.0" height="11.0"/><rect x="1632.7" y="967.6" width="11.0" height="11.0"/><rect x="1646.8" y="967.6" width="11.0" height="11.0"/><rect x="1660.7" y="965.8" width="11.0" height="11.0"/><rect x="1674.7" y="962.9" width="11.0" height="11.0"/><rect x="1688.8" y="955.3" width="11.0" height="11.0"/><rect x="1702.7" y="942.9" width="11.0" height="11.0"/><rect x="1716.6" y="931.6" width="11.0" height="11.0"/><rect x="1730.6" y="918.5" width="11.0" height="11.0"/><rect x="1745" y="906.2" width="11.0" height="11.0"/></g>
<g fill="#ff0000"><circle cx="1541" cy="1012.9" r="6.15"/><circle cx="1554.5" cy="1010.4" r="6.15"/><circle cx="1568.1" cy="1008.2" r="6.15"/><circle cx="1581.6" cy="1006.5" r="6.15"/><circle cx="1595.2" cy="1005.2" r="6.15"/><circle cx="1608.7" cy="1004" r="6.15"/><circle cx="1622.6" cy="1003.1" r="6.15"/><circle cx="1636.2" cy="1002.3" r="6.15"/><circle cx="1649.7" cy="1001.4" r="6.15"/><circle cx="1663.6" cy="1000.9" r="6.15"/><circle cx="1677.3" cy="1001.9" r="6.15"/><circle cx="1690.9" cy="1003.6" r="6.15"/><circle cx="1704.8" cy="1006" r="6.15"/><circle cx="1718.3" cy="1008.2" r="6.15"/><circle cx="1732.4" cy="1010.2" r="6.15"/><circle cx="1746" cy="1011.6" r="6.15"/><circle cx="1759.7" cy="1012.8" r="6.15"/><circle cx="1773.4" cy="1014" r="6.15"/><circle cx="1787.2" cy="1014.2" r="6.15"/><circle cx="1800.9" cy="1014" r="6.15"/><circle cx="1814.7" cy="1013" r="6.15"/><circle cx="1828.4" cy="1012.1" r="6.15"/><circle cx="1842" cy="1011.3" r="6.15"/><circle cx="1855.8" cy="1007" r="6.15"/><circle cx="1869.4" cy="1003.2" r="6.15"/><circle cx="1882.9" cy="999" r="6.15"/><circle cx="1896.5" cy="993.8" r="6.15"/><circle cx="1910.5" cy="989.6" r="6.15"/><circle cx="1924.4" cy="986.2" r="6.15"/><circle cx="1938" cy="982.8" r="6.15"/><circle cx="1951.5" cy="980.3" r="6.15"/><circle cx="1965" cy="979" r="6.15"/><circle cx="1979.1" cy="976.5" r="6.15"/><circle cx="1992.8" cy="970.4" r="6.15"/><circle cx="2006.9" cy="960.8" r="6.15"/><circle cx="2019.2" cy="947.7" r="6.15"/></g>
<text x="1505.5" y="600.3" font-size="26" text-anchor="end" fill="#2a2a2a">35</text>
<text x="1505.5" y="808" font-size="26" text-anchor="end" fill="#2a2a2a">30</text>
<text x="1505.5" y="1018" font-size="26" text-anchor="end" fill="#2a2a2a">25</text>
<text x="1516" y="1079.4" font-size="26" text-anchor="middle" fill="#2a2a2a">0</text>
<text x="1763" y="1079.4" font-size="26" text-anchor="middle" fill="#2a2a2a">1</text>
<text x="2010" y="1079.4" font-size="26" text-anchor="middle" fill="#2a2a2a">2</text>
<text x="1794.5" y="1112.2" font-size="34.8" text-anchor="middle" fill="#2a2a2a">Time (hour)</text>
<text x="1443.5" y="976.3" font-size="34.6" text-anchor="start" fill="#2a2a2a" transform="rotate(-90 1443.5 976.3)">Temperature <tspan letter-spacing="2">(°C)</tspan></text>
<text x="2035.8" y="639" font-size="26" text-anchor="end" fill="#2a2a2a">Symbol : Experimental data</text>
<text x="2038.5" y="669.7" font-size="26" text-anchor="end" fill="#2a2a2a">Line : Model results</text>
<text x="2034" y="705.5" font-size="26" text-anchor="end" fill="#2a2a2a">Cell 3 : LFP/Graphite</text>
<path d="M1907 731.7H1957.5" stroke="#e8152a" stroke-width="3.4" fill="none"/>
<text x="1973.8" y="740.9" font-size="26" text-anchor="start" fill="#231815">0.5C</text>
<path d="M1907 771.4H1957.5" stroke="#1c14ff" stroke-width="3.4" fill="none"/>
<text x="1973.8" y="780.6" font-size="26" text-anchor="start" fill="#231815">1.0C</text>
<path d="M1907 810.7H1957.5" stroke="#1fbf68" stroke-width="3.4" fill="none"/>
<text x="1973.8" y="819.9" font-size="26" text-anchor="start" fill="#231815">2.0C</text>
</svg>
</body></html>
